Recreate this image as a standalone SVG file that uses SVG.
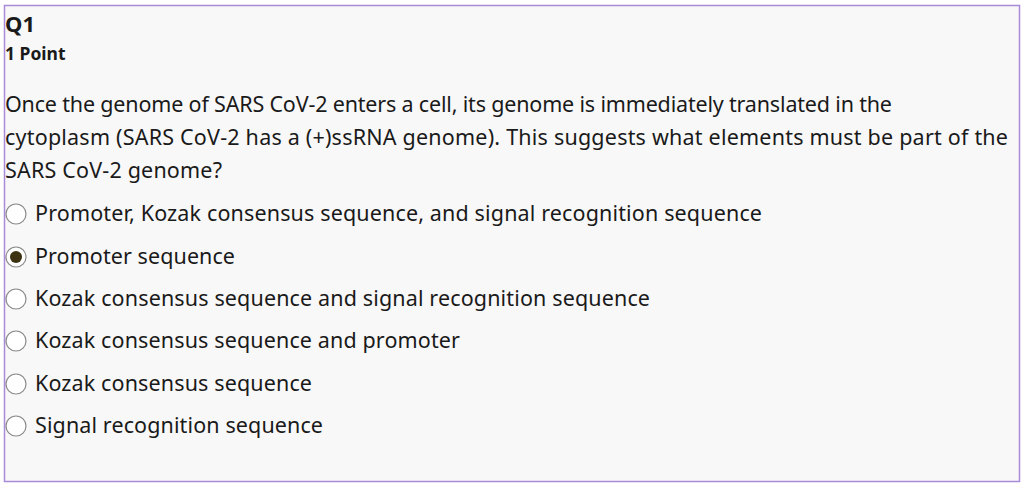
<svg xmlns="http://www.w3.org/2000/svg" width="1024" height="485" viewBox="0 0 1024 485">
<style>
text{font-family:"Noto Sans","Open Sans",sans-serif;fill:#1a1a1a}
.t{font-size:21.5px}
.r{fill:#fff;stroke:#8a8a8a;stroke-width:1.2}
</style>
<rect x="0" y="0" width="1024" height="485" fill="#fff"/>
<rect x="4.5" y="5.5" width="1015" height="476" fill="#f8f8f8" stroke="#a98bd9" stroke-width="1.5"/>
<text x="5" y="32" font-size="22" font-weight="bold">Q1</text>
<text x="5" y="60" font-size="17.5" font-weight="bold">1 Point</text>
<text class="t" x="5" y="112" textLength="887">Once the genome of SARS CoV-2 enters a cell, its genome is immediately translated in the</text>
<text class="t" x="5" y="145" textLength="1003">cytoplasm (SARS CoV-2 has a (+)ssRNA genome).  This suggests what elements must be part of the</text>
<text class="t" x="5" y="178" textLength="217">SARS CoV-2 genome?</text>
<circle class="r" cx="16" cy="214" r="10"/>
<circle class="r" cx="16" cy="257" r="10"/>
<circle cx="16" cy="257" r="6" fill="#3d3312"/>
<circle class="r" cx="16" cy="299" r="10"/>
<circle class="r" cx="16" cy="341" r="10"/>
<circle class="r" cx="16" cy="384" r="10"/>
<circle class="r" cx="16" cy="426" r="10"/>
<text class="t" x="35" y="221" textLength="727">Promoter, Kozak consensus sequence, and signal recognition sequence</text>
<text class="t" x="35" y="264" textLength="200">Promoter sequence</text>
<text class="t" x="35" y="306" textLength="615">Kozak consensus sequence and signal recognition sequence</text>
<text class="t" x="35" y="348" textLength="425">Kozak consensus sequence and promoter</text>
<text class="t" x="35" y="391" textLength="277">Kozak consensus sequence</text>
<text class="t" x="35" y="433" textLength="288">Signal recognition sequence</text>
</svg>
